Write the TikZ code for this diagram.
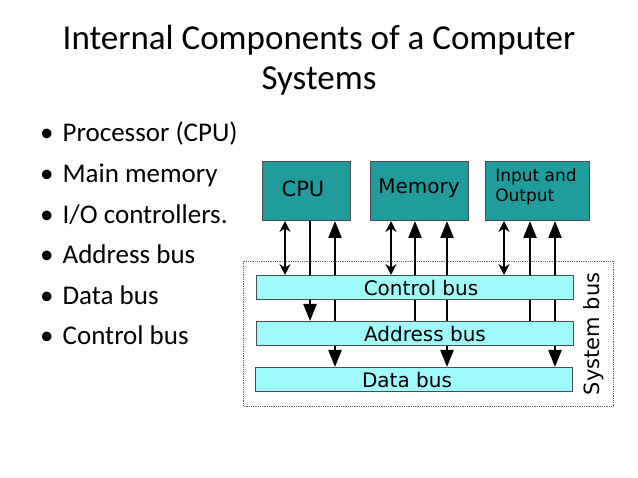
\documentclass[tikz,border=0pt]{standalone}
\usepackage{fontspec}
\setmainfont{Carlito}
\newfontfamily\dv{DejaVu Sans}
\usetikzlibrary{arrows.meta}
\definecolor{teal1}{RGB}{32,156,156}
\definecolor{cyan1}{RGB}{160,250,250}
\begin{document}
\begin{tikzpicture}[x=1pt,y=-1pt,
  unit/.style={draw=black!70,fill=teal1,line width=0.8pt},
  bus/.style={draw=black!70,fill=cyan1,line width=0.8pt},
  thin arr/.style={line width=1.4pt,{Stealth[length=11pt,width=11pt]}-{Stealth[length=11pt,width=11pt]}},
  thick arr/.style={line width=2.4pt,-{Stealth[length=17pt,width=13pt,inset=0pt]}},
  thick dbl/.style={line width=2.4pt,{Stealth[length=17pt,width=13pt,inset=0pt]}-{Stealth[length=17pt,width=13pt,inset=0pt]}},
  lbl/.style={anchor=center}]
\useasboundingbox (0,0) rectangle (638,478);
\node[font=\fontsize{35}{40}\selectfont,align=center] (title) at (319,60) {Internal Components of a Computer\\Systems};
\foreach \t [count=\i] in {Processor (CPU),Main memory,I/O controllers.,Address bus,Data bus,Control bus}{
  \node[font=\fontsize{27}{30}\selectfont,anchor=base west,inner sep=0pt] (b\i) at (40,{142+40.6*(\i-1)}) {\textbullet\hspace{9pt}\t};
}
% dotted system bus box
\draw[densely dotted,black!60,line width=0.8pt] (243,261) rectangle (613,406);
\node[lbl,rotate=90,font=\dv\fontsize{21}{22}\selectfont] (sys) at (594,334) {System bus};
% units
\path[unit] (262,161) rectangle (350,220);
\path[unit] (370,161) rectangle (468,220);
\path[unit] (485,161) rectangle (589,220);
\node[lbl,font=\dv\fontsize{21}{22}\selectfont] (cpu) at (303,189) {CPU};
\node[lbl,font=\dv\fontsize{20}{22}\selectfont] (mem) at (419,188) {Memory};
\node[lbl,align=left,font=\dv\fontsize{17}{20}\selectfont] (io) at (536,187) {Input and\\Output};
% arrows (behind buses)
\coordinate (c1) at (285,221); \coordinate (c1e) at (285,275);
\coordinate (c2) at (310,221); \coordinate (c2e) at (310,321);
\coordinate (c3) at (335,221); \coordinate (c3e) at (335,367);
\coordinate (m1) at (391,221); \coordinate (m1e) at (391,275);
\coordinate (m2) at (415,221); \coordinate (m2e) at (415,321);
\coordinate (m3) at (447,221); \coordinate (m3e) at (447,367);
\coordinate (i1) at (504,221); \coordinate (i1e) at (504,275);
\coordinate (i2) at (530,221); \coordinate (i2e) at (530,321);
\coordinate (i3) at (555,221); \coordinate (i3e) at (555,367);
\draw[thin arr] (c1) -- (c1e);
\draw[thin arr] (m1) -- (m1e);
\draw[thin arr] (i1) -- (i1e);
\draw[thick arr] (c2) -- (c2e);
\draw[thick arr] (m2e) -- (m2);
\draw[thick arr] (i2e) -- (i2);
\draw[thick dbl] (c3) -- (c3e);
\draw[thick dbl] (m3) -- (m3e);
\draw[thick dbl] (i3) -- (i3e);
% buses
\path[bus] (256,275) rectangle (573,299);
\path[bus] (256,321) rectangle (573,345);
\path[bus] (255,367) rectangle (572,391);
\node[lbl,font=\dv\fontsize{20}{22}\selectfont] (cb) at (421,288) {Control bus};
\node[lbl,font=\dv\fontsize{20}{22}\selectfont] (ab) at (425,334) {Address bus};
\node[lbl,font=\dv\fontsize{20}{22}\selectfont] (db) at (407,380) {Data bus};
\end{tikzpicture}
\end{document}
